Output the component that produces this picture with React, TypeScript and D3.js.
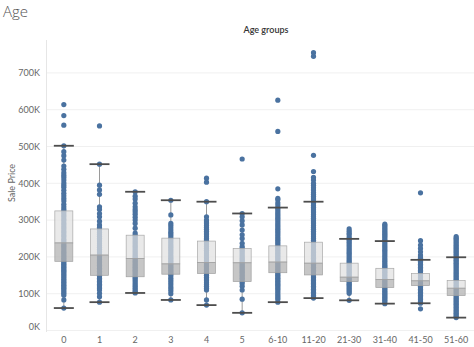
import React from "react";
import * as d3 from "d3";

const categories = ["0", "1", "2", "3", "4", "5", "6-10", "11-20", "21-30", "31-40", "41-50", "51-60"];
// box plot statistics, thousands of dollars
const whiskerLow = [61, 77, 102, 83, 69, 48, 77, 88, 82, 73, 74, 35];
const q1 = [188, 150, 146, 153, 155, 133, 157, 151, 133, 117, 122, 95];
const median = [238, 205, 196, 181, 185, 184, 186, 183, 145, 139, 135, 115];
const q3 = [325, 276, 259, 251, 243, 223, 230, 240, 183, 169, 155, 136];
const whiskerHigh = [502, 452, 377, 354, 350, 318, 334, 350, 249, 243, 192, 199];

// individual sale prices (thousands) per age group
const dots0 = [614, 584, 558, 502, 486, 475, 463, 447, 438, 429, 422, 416, 409, 401, 395, 389, 381, 373, 366, 359, 352, 343, 336, 330,
  325, 320, 314, 309, 303, 298, 292, 287, 281, 276, 270, 265, 259, 254, 248, 243, 238, 233, 229, 224, 219, 214, 210, 205, 201, 196, 192, 188,
  184, 180, 176, 172, 168, 164, 160, 156, 152, 148, 144, 139, 135, 131, 127, 123, 119, 115, 111, 106, 101, 96, 83, 61];
const dots1 = [556, 452, 395, 382, 370, 336, 329, 318, 309, 297, 287, 280,
  276, 271, 266, 261, 256, 251, 246, 241, 236, 231, 226, 221, 216, 211, 206, 201, 197, 193, 189, 185, 181, 177, 173, 169, 165, 161, 157, 153, 150,
  146, 142, 138, 134, 130, 126, 122, 118, 114, 110, 101, 92, 77];
const dots2 = [377, 365, 357, 346, 336, 329, 323, 316, 308, 300, 291, 278,
  265, 259, 254, 249, 244, 239, 234, 229, 224, 219, 214, 209, 204, 200, 196, 192, 188, 184, 180, 176, 172, 168, 164, 160, 156, 152, 148,
  144, 140, 135, 130, 125, 120, 115, 110, 106, 102];
const dots3 = [354, 314, 291, 285, 279, 273, 267, 262, 257,
  251, 246, 241, 236, 231, 226, 221, 216, 211, 206, 201, 196, 192, 188, 184, 180, 176, 172, 168, 164, 160, 156, 153,
  148, 142, 136, 130, 124, 118, 113, 107, 100, 83];
const dots4 = [414, 403, 350, 309, 300, 295, 290, 285, 280, 275, 270, 265, 260, 255, 250, 246,
  243, 238, 233, 228, 223, 218, 213, 208, 203, 198, 194, 190, 186, 182, 178, 174, 170, 166, 162, 158, 155,
  150, 145, 140, 135, 130, 125, 120, 115, 110, 83, 69];
const dots5 = [466, 318, 309, 298, 287, 273, 260, 250, 237,
  228, 223, 218, 213, 208, 203, 198, 194, 190, 186, 182, 178, 174, 170, 166, 162, 158, 154, 150, 146, 142, 138, 133,
  128, 120, 110, 85, 48];
const dots6 = [626, 541, 385, 359, 355, 347, 341, 334,
  330, 325, 320, 315, 310, 305, 300, 295, 290, 285, 280, 275, 270, 265, 260, 255, 250, 245, 240, 235, 230, 226, 222, 218, 214, 210, 206, 202,
  198, 194, 190, 186, 182, 178, 174, 170, 166, 162, 158, 154, 150, 146, 142, 138, 134, 130, 126, 122, 118, 114, 110, 105, 100, 95, 90, 85, 77];
const dots7 = [755, 745, 476, 432, 416, 409, 400, 395, 388, 382,
  375, 370, 365, 360, 355, 350, 345, 340, 335, 330, 325, 320, 315, 310, 305, 300, 295, 290, 285, 280, 275, 270, 265, 260, 255, 250, 245, 240,
  236, 232, 228, 224, 220, 216, 212, 208, 204, 200, 196, 192, 188, 184, 180, 176, 172, 168, 164, 160, 156, 152, 148, 144, 140, 136, 132, 128,
  124, 120, 116, 112, 108, 104, 100, 96, 92, 88];
const dots8 = [276, 270, 264, 260, 254, 249, 245, 240, 235, 230, 225, 220, 215, 210, 205, 200, 195, 190, 186, 182, 178, 174, 170, 166, 162,
  158, 154, 150, 146, 142, 138, 134, 130, 126, 122, 118, 114, 110, 106, 101, 82];
const dots9 = [289, 285, 281, 277, 273, 269, 265, 261, 257, 253, 248, 243, 238, 233, 228, 223, 218, 213, 208, 203, 198, 193, 188, 183, 178,
  174, 170, 166, 162, 158, 154, 150, 146, 142, 138, 134, 130, 126, 122, 118, 114, 110, 106, 102, 98, 94, 90, 86, 82, 78, 73];
const dots10 = [374, 244, 232, 223, 214, 205, 200, 196, 192, 188, 184, 180, 176, 172, 168, 164, 160, 156, 152, 148, 144, 140, 136, 132, 128,
  124, 120, 116, 112, 108, 104, 100, 96, 92, 88, 84, 79, 74, 59];
const dots11 = [255, 251, 247, 243, 239, 235, 231, 227, 223, 219, 215, 211, 207, 203, 199, 195, 191, 187, 183, 179, 175, 171, 167, 163, 159,
  155, 151, 147, 143, 139, 135, 131, 127, 123, 119, 115, 111, 107, 103, 99, 95, 91, 87, 83, 79, 75, 71, 67, 63, 59, 55, 51, 47, 43, 39, 35];
const dotLists = [dots0, dots1, dots2, dots3, dots4, dots5, dots6, dots7, dots8, dots9, dots10, dots11];

const yTicks = [0, 100, 200, 300, 400, 500, 600, 700];

const W = 474;
const H = 347;
const FONT = "Lato, 'Open Sans', sans-serif";
const DOT = "#4a72a0";

export default function App() {
  const x = d3.scaleBand<string>().domain(categories).range([46, 474]).padding(0);
  const y = d3.scaleLinear().domain([0, 700]).range([330.5, 72.9]);
  const bw = 18;
  const capW = 20;

  return (
    <svg width={W} height={H} style={{ position: "absolute", left: 0, top: 0, background: "#fff" }} fontFamily={FONT}>
      <text x={3} y={17} fontSize={15} fill="#555" fontFamily="'Open Sans', Lato, sans-serif" fontWeight={300}>Age</text>
      <text x={266} y={33} fontSize={9} fill="#333" fontWeight={600} textAnchor="middle">Age groups</text>
      {/* gridlines */}
      {yTicks.map((t) => (
        <line key={"g" + t} x1={46} x2={W} y1={y(t)} y2={y(t)} stroke="#f0f0f0" strokeWidth={1} />
      ))}
      <line x1={46.5} x2={46.5} y1={40} y2={332} stroke="#e6e6e6" />
      {/* y tick labels */}
      {yTicks.map((t) => (
        <text key={"t" + t} x={40} y={t === 0 ? y(t) - 3 : y(t) + 1} fontSize={9} fill="#666" textAnchor="end" dominantBaseline="middle">
          {t}K
        </text>
      ))}
      <text transform={`translate(13,183) rotate(-90)`} fontSize={9} fill="#666" textAnchor="middle" dominantBaseline="middle">
        Sale Price
      </text>
      {/* x labels */}
      {categories.map((c) => (
        <text key={"x" + c} x={(x(c) as number) + x.bandwidth() / 2} y={342.5} fontSize={9} fill="#666" textAnchor="middle">
          {c}
        </text>
      ))}
      {categories.map((c, i) => {
        const cx = (x(c) as number) + x.bandwidth() / 2;
        return (
          <g key={c}>
            <line x1={cx} x2={cx} y1={y(whiskerLow[i])} y2={y(whiskerHigh[i])} stroke="#9a9a9a" strokeWidth={1} />
            {dotLists[i].map((v, j) => (
              <circle key={j} cx={cx} cy={y(v)} r={2.6} fill={DOT} />
            ))}
            <rect x={cx - bw / 2} y={y(q3[i])} width={bw} height={y(median[i]) - y(q3[i])} fill="#e0e0e0" fillOpacity={0.72} stroke="#a8a8a8" strokeWidth={0.7} />
            <rect x={cx - bw / 2} y={y(median[i])} width={bw} height={y(q1[i]) - y(median[i])} fill="#b3b3b3" fillOpacity={0.75} stroke="#a0a0a0" strokeWidth={0.7} />
            <line x1={cx - capW / 2} x2={cx + capW / 2} y1={y(whiskerHigh[i])} y2={y(whiskerHigh[i])} stroke="#4d4d4d" strokeWidth={1.8} />
            <line x1={cx - capW / 2} x2={cx + capW / 2} y1={y(whiskerLow[i])} y2={y(whiskerLow[i])} stroke="#4d4d4d" strokeWidth={1.8} />
          </g>
        );
      })}
    </svg>
  );
}
